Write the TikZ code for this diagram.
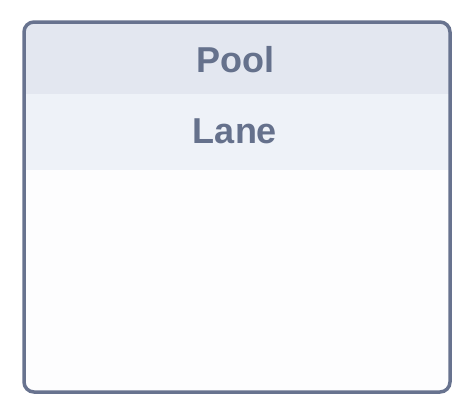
\documentclass[tikz,border=0pt]{standalone}
\usepackage{fontspec}
\setmainfont{Liberation Sans}
\definecolor{poolline}{HTML}{68738F}
\definecolor{pooltext}{HTML}{65718C}
\definecolor{poolfill}{HTML}{E3E7F0}
\definecolor{lanefill}{HTML}{EEF2F8}
\definecolor{bodyfill}{HTML}{FDFDFE}

\begin{document}
\begin{tikzpicture}[x=1pt, y=-1pt,
		title/.style={text=pooltext, font=\fontsize{36}{36}\selectfont\bfseries, anchor=center}]
		\useasboundingbox (0, 0) rectangle (474, 415);

		\begin{scope}
			\clip[rounded corners=10pt] (24, 22) rectangle (450, 392);
			\fill[bodyfill] (24, 22) rectangle (450, 392);
			\fill[poolfill] (24, 22) rectangle (450, 94);
			\fill[lanefill] (24, 94) rectangle (450, 170);
		\end{scope}
		\draw[poolline, line width=3.5pt, rounded corners=10pt] (24, 22) rectangle (450, 392);

		\node[title] (pool) at (235, 60) {Pool};
		\node[title] (lane) at (235, 131) {Lane};
	\end{tikzpicture}
\end{document}
